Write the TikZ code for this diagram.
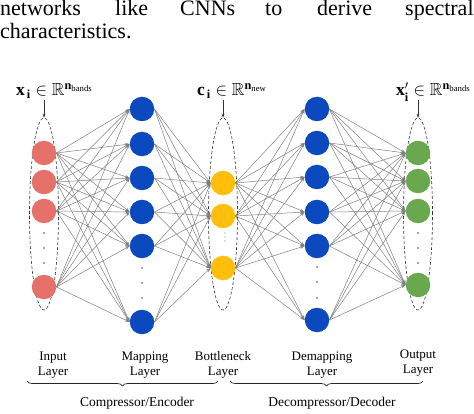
\documentclass[tikz,border=0pt]{standalone}
\usepackage{fontspec}
\setmainfont{Liberation Serif}
\usepackage{amssymb}
\usetikzlibrary{arrows.meta,shapes.geometric,decorations.pathreplacing}
\definecolor{cred}{RGB}{230,112,106}
\definecolor{cblue}{RGB}{12,72,190}
\definecolor{cyel}{RGB}{255,190,10}
\definecolor{cgreen}{RGB}{106,168,79}
\begin{document}
\begin{tikzpicture}[x=1pt,y=-1pt,
  neuron/.style={circle,inner sep=0pt,minimum size=24.5pt},
  redn/.style={neuron,fill=cred},
  bluen/.style={neuron,fill=cblue},
  yeln/.style={neuron,fill=cyel},
  greenn/.style={neuron,fill=cgreen},
  layerell/.style={ellipse,draw=black!80,densely dashed,line width=0.6pt,minimum width=29pt,minimum height=192pt,inner sep=0pt},
  conn/.style={draw=black!50,line width=0.5pt,-{Stealth[length=4.5pt,width=3.2pt]}},
  dotn/.style={circle,fill=black!70,inner sep=0pt,minimum size=1.8pt},
  para/.style={font=\fontsize{22}{24}\selectfont,inner sep=0pt,anchor=base west},
  lbl/.style={font=\fontsize{13}{15}\selectfont,align=center,inner sep=0pt},
  toplbl/.style={font=\fontsize{17.5}{19}\selectfont,inner sep=0pt,anchor=base west},
  downarrow/.style={draw=black!80,line width=0.5pt,-{Stealth[length=4pt,width=3pt]}},
  bracedec/.style={decorate,decoration={brace,amplitude=5pt,mirror},line width=0.7pt,draw=black!85}
]
\useasboundingbox (0,0) rectangle (474,414);
% paragraph text
\node[para] (w1) at (0,16) {networks};
\node[para] (w2) at (115,16) {like};
\node[para] (w3) at (180,16) {CNNs};
\node[para] (w4) at (265,16) {to};
\node[para] (w5) at (317,16) {derive};
\node[para] (w6) at (405,16) {spectral};
\node[para] (w7) at (0,39) {characteristics.};
% ellipses
\node[layerell] (e1) at (44,214) {};
\node[layerell] (e3) at (223,214) {};
\node[layerell] (e5) at (418,214) {};
% input layer
\node[redn] (in1) at (44,153) {};
\node[redn] (in2) at (44,182) {};
\node[redn] (in3) at (44,211) {};
\node[redn] (in4) at (44,287) {};
\foreach \y [count=\k] in {233,248,263} \node[dotn] (ind\k) at (44,\y) {};
% mapping layer
\foreach \y [count=\k] in {109,144,178,212,246,322} \node[bluen] (m\k) at (142,\y) {};
\foreach \y [count=\k] in {268,283,298} \node[dotn] (md\k) at (142,\y) {};
% bottleneck
\node[yeln] (b1) at (223,183) {};
\node[yeln] (b2) at (223,216) {};
\node[yeln] (b3) at (223,268) {};
\foreach \y [count=\k] in {233,237,241} \node[dotn,minimum size=1.2pt,fill=black!50] (bd\k) at (225,\y) {};
% demapping
\foreach \y [count=\k] in {109,143,177,212,246,320} \node[bluen] (d\k) at (317,\y) {};
\foreach \y [count=\k] in {267,282,298} \node[dotn] (dd\k) at (317,\y) {};
% output
\node[greenn] (o1) at (418,153) {};
\node[greenn] (o2) at (418,181) {};
\node[greenn] (o3) at (418,211) {};
\node[greenn] (o4) at (418,285) {};
\foreach \y [count=\k] in {233,248,263} \node[dotn] (od\k) at (418,\y) {};
% connections
\foreach \i in {1,...,4} \foreach \j in {1,...,6} \draw[conn] (in\i.east) -- (m\j.west);
\foreach \i in {1,...,6} \foreach \j in {1,...,3} \draw[conn] (m\i.east) -- (b\j.west);
\foreach \i in {1,...,3} \foreach \j in {1,...,6} \draw[conn] (b\i.east) -- (d\j.west);
\foreach \i in {1,...,6} \foreach \j in {1,...,4} \draw[conn] (d\i.east) -- (o\j.west);
% top labels
\node[toplbl] (lx) at (16,96) {$\mathbf{x}_{\,\mathbf{i}}\in\mathbb{R}^{\mathbf{n}_{\mathrm{bands}}}$};
\node[toplbl] (lc) at (197,96) {$\mathbf{c}_{\,\mathbf{i}}\in\mathbb{R}^{\mathbf{n}_{\mathrm{new}}}$};
\node[toplbl] (lo) at (396,96) {$\mathbf{x}^{\prime}_{\mathbf{i}}\in\mathbb{R}^{\mathbf{n}_{\mathrm{bands}}}$};
\coordinate (a1) at (44,100);
\coordinate (a3) at (223,100);
\coordinate (a5) at (418,100);
\draw[downarrow] (a1) -- (e1.north);
\draw[downarrow] (a3) -- (e3.north);
\draw[downarrow] (a5) -- (e5.north);
% bottom labels
\node[lbl] (l1) at (53,365) {Input\\Layer};
\node[lbl] (l2) at (145,365) {Mapping\\Layer};
\node[lbl] (l3) at (223,365) {Bottleneck\\Layer};
\node[lbl] (l4) at (322,365) {Demapping\\Layer};
\node[lbl] (l5) at (418,363) {Output\\Layer};
% braces
\coordinate (br1a) at (27,381);
\coordinate (br1b) at (218,381);
\coordinate (br2a) at (230,381);
\coordinate (br2b) at (423,381);
\draw[bracedec] (br1a) -- (br1b);
\draw[bracedec] (br2a) -- (br2b);
\node[lbl,font=\fontsize{13.5}{15}\selectfont] (enc) at (137,403) {Compressor/Encoder};
\node[lbl,font=\fontsize{13.5}{15}\selectfont] (dec) at (332,403) {Decompressor/Decoder};
\end{tikzpicture}
\end{document}
